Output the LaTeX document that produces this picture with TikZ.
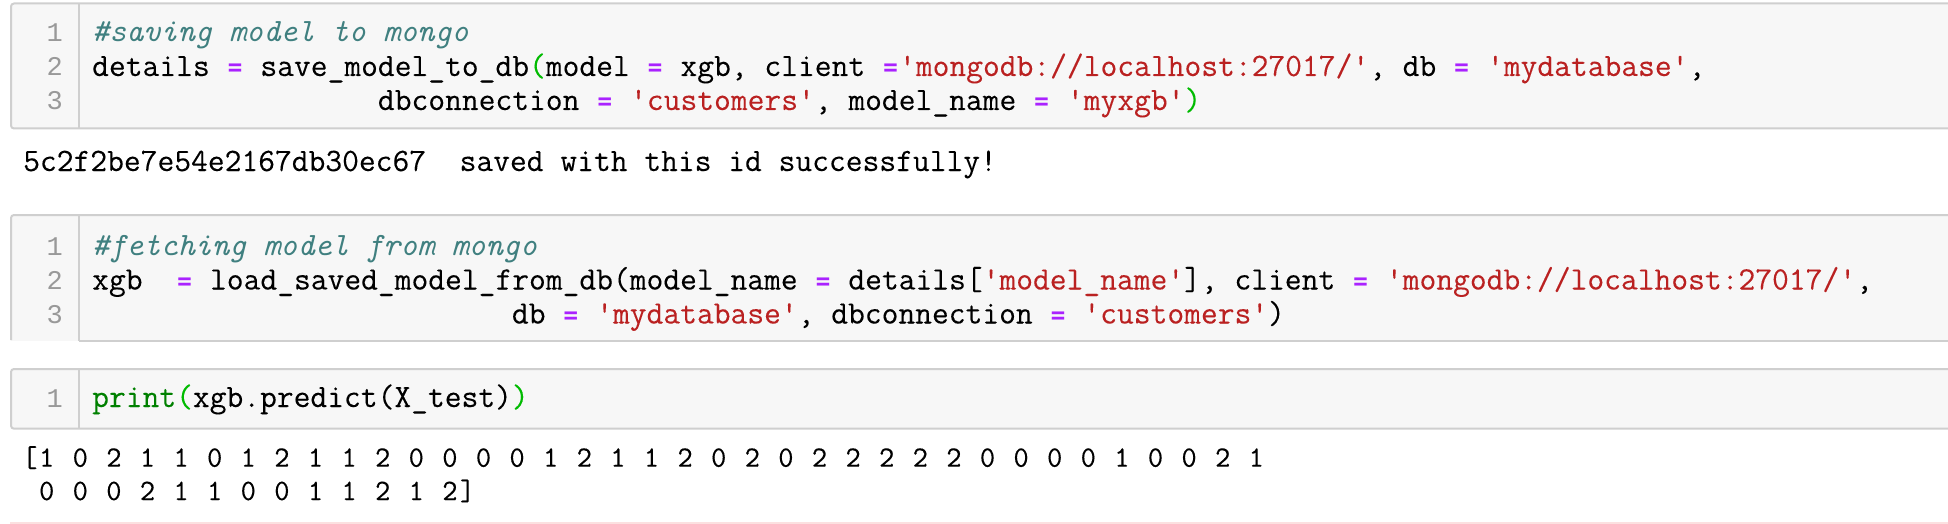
\documentclass[tikz,border=0pt]{standalone}
\usepackage{fontspec}
\setmonofont{Latin Modern Mono}[FakeBold=0.1]
\newfontfamily\commentfont{Latin Modern Mono}
\newfontfamily\gutterfont{Liberation Mono}
\newfontfamily\opfont{DejaVu Sans Mono Bold}
\newfontfamily\arrayfont{Latin Modern Mono}[FakeBold=0.3]
\definecolor{cellgray}{HTML}{F7F7F7}
\definecolor{cellline}{HTML}{CFCFCF}
\definecolor{numgray}{HTML}{999999}
\definecolor{optxt}{HTML}{AA22FF}
\definecolor{strtxt}{HTML}{BA2121}
\definecolor{comtxt}{HTML}{408080}
\definecolor{keytxt}{HTML}{008000}
\definecolor{partxt}{HTML}{00BB00}
\definecolor{pinkline}{HTML}{FCE0E0}
\newcommand{\cop}{\makebox[17.12pt][c]{\textcolor{optxt}{\fontsize{24}{30}\selectfont\opfont =}}}
\newcommand{\cstr}[1]{\textcolor{strtxt}{'#1'}}
\newcommand{\cpar}[1]{\textcolor{partxt}{#1}}
\tikzset{
  code/.style={anchor=base west,inner sep=0pt,font=\fontsize{32.6}{38}\selectfont\ttfamily\frenchspacing},
  comment/.style={code,text=comtxt,font=\fontsize{32.6}{38}\selectfont\commentfont\itshape},
  linenum/.style={anchor=base east,inner sep=0pt,text=numgray,font=\fontsize{27}{30}\selectfont\gutterfont},
  arrdigit/.style={anchor=base,inner sep=0pt,font=\fontsize{29.5}{34}\selectfont\arrayfont},
  cellbox/.style={draw=cellline,line width=2pt,fill=cellgray,rounded corners=3pt},
  gutter/.style={draw=cellline,line width=2pt}
}
\begin{document}
\begin{tikzpicture}[x=1pt,y=-1pt]
  \useasboundingbox (0,0) rectangle (1948,524);
  % first cell
  \draw[cellbox] (11,3.5) rectangle (1960,128.5);
  \draw[gutter] (79,4) -- (79,128);
  \node[linenum] (savea) at (63,42) {1};
  \node[linenum] (saveb) at (63,76) {2};
  \node[linenum] (savec) at (63,110) {3};
  \node[comment] (savecom) at (92,42) {\#saving model to mongo};
  \node[code] (saveone) at (92,76) {details \cop{} save\_model\_to\_db\cpar{(}model \cop{} xgb, client \cop\cstr{mongodb://localhost:27017/}, db \cop{} \cstr{mydatabase},};
  \node[code] (savetwo) at (377.75,110) {dbconnection \cop{} \cstr{customers}, model\_name \cop{} \cstr{myxgb}\cpar{)}};
  \node[code] (saveout) at (23,171) {5c2f2be7e54e2167db30ec67~~saved with this id successfully!};
  % second cell, its gutter has no line below
  \fill[cellgray] (11,215) rectangle (1960,340.7);
  \draw[cellline,line width=2pt,rounded corners=3pt] (11,340) -- (11,215) -- (1960,215);
  \draw[cellline,line width=2pt] (79,340.7) -- (1960,340.7);
  \draw[gutter] (79,215) -- (79,340.7);
  \node[linenum] (fetcha) at (63,255.5) {1};
  \node[linenum] (fetchb) at (63,289.5) {2};
  \node[linenum] (fetchc) at (63,323.5) {3};
  \node[comment] (fetchcom) at (92,255.5) {\#fetching model from mongo};
  \node[code] (fetchone) at (92,289.5) {xgb~~\cop{} load\_saved\_model\_from\_db(model\_name \cop{} details[\cstr{model\_name}], client \cop{} \cstr{mongodb://localhost:27017/},};
  \node[code] (fetchtwo) at (511.75,323.5) {db \cop{} \cstr{mydatabase}, dbconnection \cop{} \cstr{customers})};
  % third cell
  \draw[cellbox] (11,369) rectangle (1960,428.7);
  \draw[gutter] (79,369.5) -- (79,428);
  \node[linenum] (printa) at (63,407) {1};
  \node[code] (printone) at (92,407) {\textcolor{keytxt}{print}\cpar{(}xgb.predict(X\_test)\cpar{)}};
  % printed array
  \node[arrdigit] (brackopen) at (29.9,466.7) {[};
  \foreach \val [count=\i from 0] in {1,0,2,1,1,0,1,2,1,1,2,0,0,0,0,1,2,1,1,2,0,2,0,2,2,2,2,2,0,0,0,0,1,0,0,2,1}
    \node[arrdigit] (rowa\i) at (46.7+33.6*\i,466.7) {\val};
  \foreach \val [count=\i from 0] in {0,0,0,2,1,1,0,0,1,1,2,1,2}
    \node[arrdigit] (rowb\i) at (46.7+33.6*\i,500) {\val};
  \node[arrdigit] (brackclose) at (467.5,500) {]};
  \fill[pinkline] (10,522.3) rectangle (1948,524);
\end{tikzpicture}
\end{document}
